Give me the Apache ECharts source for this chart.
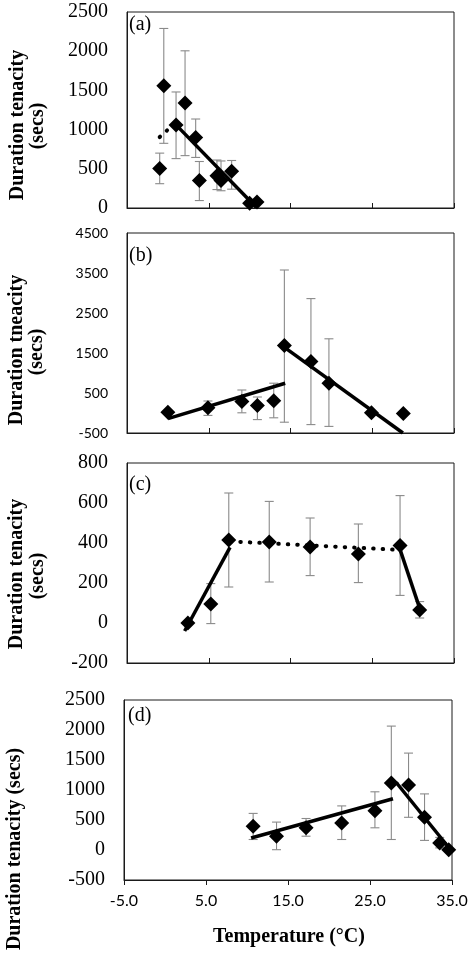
<!DOCTYPE html>
<html><head><meta charset="utf-8">
<script src="https://cdn.jsdelivr.net/npm/echarts@6/dist/echarts.min.js"></script>
<style>html,body{margin:0;padding:0;background:#fff}#c{width:474px;height:953px}</style>
</head><body><div id="c"></div>
<script>
// ---- Panel (a) ----
const tempA = [-1.0, -0.5, 1.0, 2.1, 3.4, 3.85, 6.0, 6.5, 7.8, 10.0, 10.9];
const durA = [505, 1560, 1060, 1340, 900, 350, 410, 350, 470, 60, 75];
const errLowA = [310, 825, 630, 668, 645, 95, 235, 220, 240, null, null];
const errHighA = [700, 2290, 1480, 2005, 1135, 593, 612, 600, 606, null, null];
const trendA = [[1.0, 1060], [10.8, 10]];
const dottedA = [[-1.0, 905], [-0.1, 990]];
// ---- Panel (b) ----
const tempB = [0.0, 4.9, 9.05, 10.95, 12.95, 14.25, 17.5, 19.7, 24.9, 28.8];
const durB = [20, 130, 285, 185, 305, 1685, 1290, 745, 5, -10];
const errLowB = [null, -60, 5, -165, -120, -230, -290, -335, null, null];
const errHighB = [null, 300, 575, 400, 745, 3575, 2860, 1855, null, null];
const trendB1 = [[0.0, -140], [14.35, 745]];
const trendB2 = [[14.35, 1630], [28.75, -500]];
// ---- Panel (c) ----
const tempC = [2.45, 5.25, 7.45, 12.4, 17.4, 23.3, 28.4, 30.8];
const durC = [0, 95, 415, 405, 380, 345, 388, 65];
const errLowC = [null, -3, 180, 205, 237, 202, 138, 25];
const errHighC = [null, 197, 650, 608, 525, 495, 637, 107];
const trendC1 = [[2.05, -40], [7.6, 378]];
const dottedC = [[7.7, 408], [27.6, 367]];
const trendC2 = [[28.2, 392], [30.9, 62]];
// ---- Panel (d) ----
const tempD = [10.75, 13.6, 17.2, 21.55, 25.6, 27.6, 29.7, 31.65, 33.5, 34.6];
const durD = [395, 230, 370, 450, 655, 1115, 1085, 545, 115, 5];
const errLowD = [175, 5, 230, 175, 370, 175, 545, 160, 35, null];
const errHighD = [610, 465, 525, 735, 970, 2065, 1615, 935, 210, null];
const trendD1 = [[10.5, 200], [27.8, 855]];
const trendD2 = [[28.2, 1125], [35.0, -25]];
// ---- axes ----
const xTicks = [-5, 35, 10];           // min, max, interval
const yRangeA = [0, 2500, 500];
const yRangeB = [-500, 4500, 1000];
const yRangeC = [-200, 800, 200];
const yRangeD = [-500, 2500, 500];
const panelLabels = ['(a)', '(b)', '(c)', '(d)'];
const yTitles = ['Duration tenacity', 'Duration tneacity', 'Duration tenacity'];
const yTitleD = 'Duration tenacity (secs)';
const xTitle = 'Temperature (°C)';

const SERIF = '"Liberation Serif","Times New Roman",serif';
const SANS = 'Lato,"Liberation Sans",sans-serif';
const INK = '#1a1a1a';

function zip(a, b) { return a.map((v, i) => [v, b[i]]); }
function errData(t, lo, hi) {
  const out = [];
  for (let i = 0; i < t.length; i++) if (lo[i] != null && hi[i] != null) out.push([t[i], lo[i], hi[i]]);
  return out;
}
function errSeries(idx, t, lo, hi) {
  return {
    type: 'custom', xAxisIndex: idx, yAxisIndex: idx, data: errData(t, lo, hi),
    encode: { x: 0, y: [1, 2] }, z: 1, silent: true,
    renderItem(params, api) {
      const x = api.value(0);
      const p1 = api.coord([x, api.value(1)]);
      const p2 = api.coord([x, api.value(2)]);
      const w = 4.5;
      const style = { stroke: '#8a8a8a', lineWidth: 1.1 };
      return { type: 'group', children: [
        { type: 'line', shape: { x1: p1[0], y1: p1[1], x2: p2[0], y2: p2[1] }, style },
        { type: 'line', shape: { x1: p1[0] - w, y1: p1[1], x2: p1[0] + w, y2: p1[1] }, style },
        { type: 'line', shape: { x1: p2[0] - w, y1: p2[1], x2: p2[0] + w, y2: p2[1] }, style }
      ] };
    }
  };
}
function pts(idx, t, d) {
  return { type: 'scatter', xAxisIndex: idx, yAxisIndex: idx, data: zip(t, d),
    symbol: 'diamond', symbolSize: 15, itemStyle: { color: '#000', opacity: 1 }, z: 3, silent: true };
}
function trend(idx, data, dotted) {
  return { type: 'line', xAxisIndex: idx, yAxisIndex: idx, data, symbol: 'none', z: 4, silent: true,
    lineStyle: dotted ? { color: '#000', width: 4, type: [0.5, 9], cap: 'round' }
                      : { color: '#000', width: 3.5 } };
}

const grids = [
  { left: 127, right: 20, top: 12, height: 196 },
  { left: 127, right: 20, top: 233, height: 200 },
  { left: 127, right: 20, top: 463, height: 200 },
  { left: 124, right: 22, top: 700, height: 180 }
].map(g => Object.assign(g, { show: true, borderColor: INK, borderWidth: 1, backgroundColor: 'transparent' }));

const xAxes = [0, 1, 2, 3].map(i => ({
  type: 'value', gridIndex: i, min: xTicks[0], max: xTicks[1], interval: xTicks[2],
  axisLine: { show: true, onZero: false, lineStyle: { color: INK, width: 1 } },
  axisTick: { show: true, inside: i < 3, length: 5, lineStyle: { color: INK } },
  splitLine: { show: false },
  axisLabel: i < 3 ? { show: false } : {
    show: true, fontFamily: SANS, fontSize: 16, color: '#000', margin: 13,
    formatter: v => v.toFixed(1)
  }
}));

const yRanges = [yRangeA, yRangeB, yRangeC, yRangeD];
const yAxes = yRanges.map((r, i) => ({
  type: 'value', gridIndex: i, min: r[0], max: r[1], interval: r[2],
  axisLine: { show: true, onZero: false, lineStyle: { color: INK, width: 1 } },
  axisTick: { show: false }, splitLine: { show: false },
  axisLabel: { fontFamily: i === 1 ? SANS : SERIF, fontSize: i === 1 ? 14 : 20, color: '#000', margin: 19,
    showMinLabel: true, showMaxLabel: true, formatter: v => String(v) }
}));

const titleFont = 'bold 20px ' + SERIF;
function vText(text, x, y) {
  return { type: 'text', x, y, rotation: Math.PI / 2, silent: true,
    style: { text, font: titleFont, fill: '#000', align: 'center', verticalAlign: 'middle' } };
}
function hText(text, x, y, font, align) {
  return { type: 'text', x, y, silent: true,
    style: { text, font, fill: '#000', align: align || 'left', verticalAlign: 'middle' } };
}
const graphic = [
  vText(yTitles[0], 18, 125), vText('(secs)', 38, 126),
  vText(yTitles[1], 17, 350), vText('(secs)', 37, 352),
  vText(yTitles[2], 17, 574), vText('(secs)', 38, 576),
  vText(yTitleD, 15, 849),
  hText(xTitle, 289, 937, titleFont, 'center'),
  hText(panelLabels[0], 129, 25, '20px ' + SERIF),
  hText(panelLabels[1], 129, 256, '20px ' + SERIF),
  hText(panelLabels[2], 129, 485, '20px ' + SERIF),
  hText(panelLabels[3], 128, 716, '20px ' + SERIF)
];

const series = [
  errSeries(0, tempA, errLowA, errHighA), pts(0, tempA, durA), trend(0, trendA), trend(0, dottedA, true),
  errSeries(1, tempB, errLowB, errHighB), pts(1, tempB, durB), trend(1, trendB1), trend(1, trendB2),
  errSeries(2, tempC, errLowC, errHighC), pts(2, tempC, durC), trend(2, trendC1), trend(2, dottedC, true), trend(2, trendC2),
  errSeries(3, tempD, errLowD, errHighD), pts(3, tempD, durD), trend(3, trendD1), trend(3, trendD2)
];

const chart = echarts.init(document.getElementById('c'));
chart.setOption({ animation: false, backgroundColor: '#fff', grid: grids, xAxis: xAxes, yAxis: yAxes, series, graphic });
</script></body></html>
